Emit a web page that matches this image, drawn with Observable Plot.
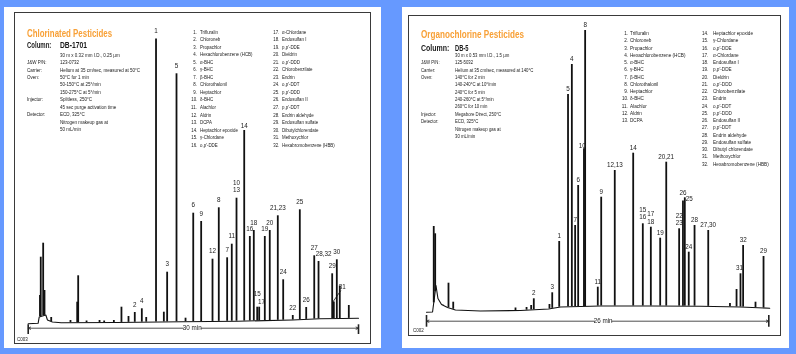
<!DOCTYPE html>
<html><head><meta charset="utf-8">
<script src="https://cdn.jsdelivr.net/npm/d3@7"></script>
<script src="https://cdn.jsdelivr.net/npm/@observablehq/plot@0.6"></script>
<style>
html,body{margin:0;padding:0;}
body{width:796px;height:354px;background:#6699ff;position:relative;overflow:hidden;
 font-family:'Liberation Sans Narrow','Arial Narrow','Liberation Sans',Arial,sans-serif;color:#111;}
.panel{position:absolute;background:#fff;}
.frame{position:absolute;border:1px solid #3a3a3a;box-sizing:border-box;}
.t{position:absolute;white-space:nowrap;transform-origin:0 50%;}
.g{filter:grayscale(1);}
.holder{position:absolute;filter:grayscale(1);}
.holder svg{background:transparent !important;overflow:visible;}
</style></head><body>
<script>
// ---------------- DATA ----------------
const leftTitle = "Chlorinated Pesticides";
const leftColumn = "DB-1701";
const leftParams = [
  ["", "30 m x 0.32 mm I.D., 0.25 µm"],
  ["J&W P/N:", "123-0732"],
  ["Carrier:", "Helium at 35 cm/sec, measured at 50°C"],
  ["Oven:", "50°C for 1 min"],
  ["", "50-150°C at 25°/min"],
  ["", "150-275°C at 5°/min"],
  ["Injector:", "Splitless, 250°C"],
  ["", "45 sec purge activation time"],
  ["Detector:", "ECD, 325°C"],
  ["", "Nitrogen makeup gas at"],
  ["", "50 mL/min"]
];
const leftCompounds = ["Trifluralin","Chloroneb","Propachlor","Hexachlorobenzene (HCB)","α-BHC","γ-BHC","β-BHC",
  "Chlorothalonil","Heptachlor","δ-BHC","Alachlor","Aldrin","DCPA","Heptachlor epoxide","γ-Chlordane","o,p′-DDE",
  "α-Chlordane","Endosulfan I","p,p′-DDE","Dieldrin","o,p′-DDD","Chlorobenzilate","Endrin","o,p′-DDT","p,p′-DDD",
  "Endosulfan II","p,p′-DDT","Endrin aldehyde","Endosulfan sulfate","Dibutylchlorendate","Methoxychlor","Hexabromobenzene (HBB)"];
const leftRunMinutes = 30;
const leftAxisLabel = "30 min";
const leftCode = "C003";
// [retention time (min), response, peak label]
const leftPeaks = [
  [1.07,27.5,""],[1.14,65.8,""],[1.36,79.8,""],[1.48,32.5,""],[2.09,5.5,""],[3.84,2.5,""],
  [4.45,20.8,""],[4.54,47.2,""],[5.30,2.0,""],[6.48,2.5,""],[6.90,2.0,""],[7.78,2.5,""],
  [8.47,15.8,""],[9.11,6.5,""],[9.68,10.5,"2"],[10.32,14.2,"4"],[10.72,5.5,""],[11.61,284,"1"],
  [12.32,10.8,""],[12.62,50.8,"3"],[13.47,249.2,"5"],[14.29,4.8,""],[14.99,109.8,"6"],[15.71,101.5,"9"],
  [16.74,63.8,"12"],[17.31,115.2,"8"],[18.07,65.2,"7"],[18.49,78.8,"11"],[18.92,124.8,"10\n13"],
  [19.62,192.5,"14"],[20.13,86.5,"16"],[20.49,92.5,"18"],[20.80,15.8,"15"],[20.98,15.8,"17"],
  [21.49,86.5,"19"],[21.94,92.5,"20"],[22.67,107.2,"21,23"],[23.16,43.2,"24"],[24.03,7.5,"22"],
  [24.67,113.2,"25"],[25.25,15.5,"26"],[25.98,67.2,"27"],[26.37,61.5,"28,32"],[27.61,49.2,"29"],
  [27.76,21.0,"31"],[28.03,63.2,"30"],[28.30,37.0,""],[29.12,17.5,""]
];
const leftBaseline = [[0,-0.8],[0.9,-0.3],[1.0,6],[1.6,8],[1.75,3],[2.2,1],[3,0.3],[8,0.5],[14,1.3],
  [19,1.8],[24,3],[26.5,4.2],[28.5,4.5],[30,4.8]];

const rightTitle = "Organochlorine Pesticides";
const rightColumn = "DB-5";
const rightParams = [
  ["", "30 m x 0.53 mm I.D., 1.5 µm"],
  ["J&W P/N:", "125-5032"],
  ["Carrier:", "Helium at 35 cm/sec, measured at 140°C"],
  ["Oven:", "140°C for 2 min"],
  ["", "140-240°C at 10°/min"],
  ["", "240°C for 5 min"],
  ["", "240-260°C at 5°/min"],
  ["", "260°C for 10 min"],
  ["Injector:", "Megabore Direct, 250°C"],
  ["Detector:", "ECD, 325°C"],
  ["", "Nitrogen makeup gas at"],
  ["", "30 mL/min"]
];
const rightCompounds = ["Trifluralin","Chloroneb","Propachlor","Hexachlorobenzene (HCB)","α-BHC","γ-BHC","β-BHC",
  "Chlorothalonil","Heptachlor","δ-BHC","Alachlor","Aldrin","DCPA","Heptachlor epoxide","γ-Chlordane","o,p′-DDE",
  "α-Chlordane","Endosulfan I","p,p′-DDE","Dieldrin","o,p′-DDD","Chlorobenzilate","Endrin","o,p′-DDT","p,p′-DDD",
  "Endosulfan II","p,p′-DDT","Endrin aldehyde","Endosulfan sulfate","Dibutyl chlorendate","Methoxychlor","Hexabromobenzene (HBB)"];
const rightRunMinutes = 26;
const rightAxisLabel = "26 min";
const rightCode = "C002";
const rightPeaks = [
  [0.55,85.7,""],[0.66,78.4,""],[1.24,6.7,""],[1.67,29.0,""],[2.03,10.0,""],[6.76,4.2,""],[7.60,4.7,""],
  [7.95,6.7,""],[8.15,13.4,"2"],[9.34,7.7,""],[9.55,19.4,"3"],[10.08,70.7,"1"],[10.75,217.7,"5"],
  [11.04,247.7,"4"],[11.29,86.7,"7"],[11.52,126.7,"6"],[11.96,163.4,"10"],[12.05,281.7,"8"],
  [13.01,25.0,"11"],[13.27,115.0,"9"],[14.30,141.7,"12,13"],[15.70,159.0,"14"],[16.43,88.4,"15\n16"],
  [17.04,85.0,"17\n18"],[17.75,74.0,"19"],[18.21,150.0,"20,21"],[19.19,83.4,"22\n23"],[19.48,111.2,"26"],
  [19.62,114.4,"25"],[19.92,60.0,"24"],[20.36,86.7,"28"],[21.40,81.7,"27,30"],[23.05,8.7,""],
  [23.55,22.7,""],[23.85,38.4,"31"],[24.05,66.7,"32"],[24.99,10.0,""],[25.60,55.7,"29"]
];
const rightBaseline = [[0,0],[0.46,0.2],[0.72,26.7],[0.87,13.7],[1.14,7.7],[1.60,4.7],[2.20,2.2],[4.10,1.2],
  [7.14,1.7],[9.27,3.2],[10.18,5.2],[13.22,6.2],[17.01,6.2],[20.81,6.0],[23.85,5.2],[26.07,4.0]];

// ---------------- LAYOUT HELPERS ----------------
const FONT = "'Liberation Sans Narrow','Arial Narrow','Liberation Sans',Arial,sans-serif";
const ORANGE = "#f8a036";
const root = document.body;
function box(cls, l, t, w, h){
  const d = document.createElement("div"); d.className = cls;
  Object.assign(d.style, {left:l+"px", top:t+"px", width:w+"px", height:h+"px"});
  root.appendChild(d); return d;
}
function txt(str, x, yc, o = {}){
  const size = o.size || 6, L = o.lh || size * 1.2;
  const d = document.createElement("div"); d.className = "t" + (o.color ? "" : " g"); d.textContent = str;
  Object.assign(d.style, {fontSize:size+"px", fontWeight:o.weight||"normal", color:o.color||"#1a1a1a",
    lineHeight:L+"px", top:(yc - L/2)+"px"});
  if (o.anchor === "right") { d.style.right = (796 - x) + "px"; d.style.textAlign = "right"; d.style.transformOrigin = "100% 50%"; }
  else d.style.left = x + "px";
  root.appendChild(d); return d;
}
function fit(els, ref, target){
  const k = target / ref.offsetWidth;
  els.forEach(e => e.style.transform = `scaleX(${k})`);
}

function chromatogram(cfg){
  const {peaks, baseline, xMax, pl, pt, pw, ph, x0, x1, yZero, arrowY, tickY, axisLabel, labelT, gap, labelDy, nudges} = cfg;
  const ppm = (x1 - x0) / xMax; // px per minute
  const base = d3.scaleLinear(baseline.map(d => d[0]), baseline.map(d => d[1])).clamp(true);
  const labeled = peaks.filter(d => d[2]);
  const nd = d => nudges[d[2]] || {};
  const normal = labeled.filter(d => !nd(d).leader);
  const leaders = labeled.filter(d => nd(d).leader);
  const lineC = "#111";
  const svg = Plot.plot({
    width: pw, height: ph, margin: 0,
    x: {domain: [0, xMax], range: [x0 - pl, x1 - pl], axis: null},
    y: {domain: [0, 300], range: [yZero - pt, yZero - 300 - pt], axis: null},
    style: {background: "transparent", overflow: "visible"},
    marks: [
      Plot.line(baseline, {x: d => d[0], y: d => d[1], stroke: lineC, strokeWidth: 1.1}),
      Plot.ruleX(peaks, {x: d => d[0], y1: d => base(d[0]), y2: d => d[1], stroke: lineC, strokeWidth: 1.8}),
      Plot.text(normal, {x: d => d[0] + (nd(d).dx || 0) / ppm, y: d => d[1] - (nd(d).dy || 0),
        text: d => d[2], dy: labelDy, lineAnchor: "bottom", lineHeight: 1.17,
        fontSize: 6.3, fontFamily: FONT, fill: "#222"}),
      Plot.link(leaders, {x1: d => d[0] - 1 / ppm, y1: d => d[1], x2: d => d[0] + 7 / ppm, y2: d => d[1] + 11.5,
        stroke: lineC, strokeWidth: 0.8}),
      Plot.text(leaders, {x: d => d[0] + nd(d).dx / ppm, y: d => d[1] - nd(d).dy,
        text: d => d[2], dy: labelDy, lineAnchor: "bottom", fontSize: 6.3, fontFamily: FONT, fill: "#222"}),
      Plot.arrow([[labelT - gap, 0], [labelT + gap, xMax]], {x1: d => d[0], x2: d => d[1], y1: arrowY, y2: arrowY,
        stroke: "#222", strokeWidth: 0.8, headLength: 5, headAngle: 50}),
      Plot.ruleX([0, xMax], {x: d => d, y1: tickY[0], y2: tickY[1], stroke: "#222", strokeWidth: 1.6}),
      Plot.text([axisLabel], {x: labelT, y: arrowY, text: d => d, fontSize: 6.3, fontFamily: FONT, fill: "#222"})
    ]
  });
  const h = box("holder", pl, pt, pw, ph);
  h.appendChild(svg);
}

// ---------------- LEFT PANEL ----------------
box("panel", 4, 7, 377, 341);
box("frame", 14, 12, 357, 332);
chromatogram({peaks: leftPeaks, baseline: leftBaseline, xMax: leftRunMinutes, pl: 4, pt: 7, pw: 377, ph: 341,
  x0: 27.7, x1: 358, yZero: 322.5, arrowY: -5.2, tickY: [-1.8, -11.5], axisLabel: leftAxisLabel,
  labelT: 14.9, gap: 0.8, labelDy: -6,
  nudges: {"15": {dy: -5}, "17": {dx: 2.3, dy: 3}, "28,32": {dx: 5}, "14": {dy: 3},
           "31": {leader: true, dx: 8.4, dy: -7}}});
{
  const t = txt(leftTitle, 26.7, 33.3, {size: 10.5, weight: 700, color: ORANGE}); fit([t], t, 85);
  const c1 = txt("Column:", 26.7, 45, {size: 8.5, lh: 8, weight: 700}); fit([c1], c1, 24);
  const c2 = txt(leftColumn, 60, 45, {size: 8.5, lh: 8, weight: 700}); fit([c2], c2, 27);
  const els = []; let ref;
  leftParams.forEach(([a, b], i) => {
    const y = 54.8 + 7.45 * i;
    if (a) els.push(txt(a, 26.7, y, {size: 6, lh: 6.4}));
    const e = txt(b, 59.5, y, {size: 6, lh: 6.4}); els.push(e);
    if (b.startsWith("Helium")) ref = e;
  });
  fit(els, ref, 80);
  const lg = []; let lref;
  leftCompounds.forEach((name, i) => {
    const col = i < 16 ? 0 : 1, r = i % 16, y = 32 + 7.53 * r;
    lg.push(txt((i + 1) + ".", col ? 279.5 : 197, y, {size: 6, lh: 6.6, anchor: "right"}));
    const e = txt(name, col ? 281.7 : 199.5, y, {size: 6, lh: 6.6}); lg.push(e);
    if (name === "Hexachlorobenzene (HCB)") lref = e;
  });
  fit(lg, lref, 52.7);
  txt(leftCode, 17, 340, {size: 4.5});
}

// ---------------- RIGHT PANEL ----------------
box("panel", 402, 7, 387, 341);
box("frame", 408, 15, 373, 321);
chromatogram({peaks: rightPeaks, baseline: rightBaseline, xMax: rightRunMinutes, pl: 402, pt: 7, pw: 387, ph: 341,
  x0: 426, x1: 768.3, yZero: 311.7, arrowY: -9, tickY: [-3.3, -15], axisLabel: rightAxisLabel,
  labelT: 13.42, gap: 0.65, labelDy: -3.5,
  nudges: {"26": {dy: -2.5}, "25": {dx: 4.5, dy: 7}, "10": {dx: -1.8, dy: 2.2}, "15\n16": {dy: -1.3}, "31": {dx: -1}}});
{
  const t = txt(rightTitle, 420.7, 34.3, {size: 10.5, weight: 700, color: ORANGE}); fit([t], t, 103);
  const c1 = txt("Column:", 420.7, 47.5, {size: 8.5, lh: 8, weight: 700}); fit([c1], c1, 28);
  const c2 = txt(rightColumn, 455, 47.5, {size: 8.5, lh: 8, weight: 700}); fit([c2], c2, 13.5);
  const els = []; let ref;
  rightParams.forEach(([a, b], i) => {
    const y = 55 + 7.38 * i;
    if (a) els.push(txt(a, 420.7, y, {size: 6, lh: 6.4}));
    const e = txt(b, 455, y, {size: 6, lh: 6.4}); els.push(e);
    if (b.startsWith("Helium")) ref = e;
  });
  fit(els, ref, 78);
  const lg = []; let lref;
  rightCompounds.forEach((name, i) => {
    const col = i < 13 ? 0 : 1, r = col ? i - 13 : i, y = 33.3 + 7.25 * r;
    lg.push(txt((i + 1) + ".", col ? 708.5 : 628, y, {size: 6, lh: 6.4, anchor: "right"}));
    const e = txt(name, col ? 713.3 : 630.3, y, {size: 6, lh: 6.4}); lg.push(e);
    if (name === "Hexachlorobenzene (HCB)") lref = e;
  });
  fit(lg, lref, 55.7);
  txt(rightCode, 413, 330.3, {size: 4.5});
}
</script>
</body></html>
